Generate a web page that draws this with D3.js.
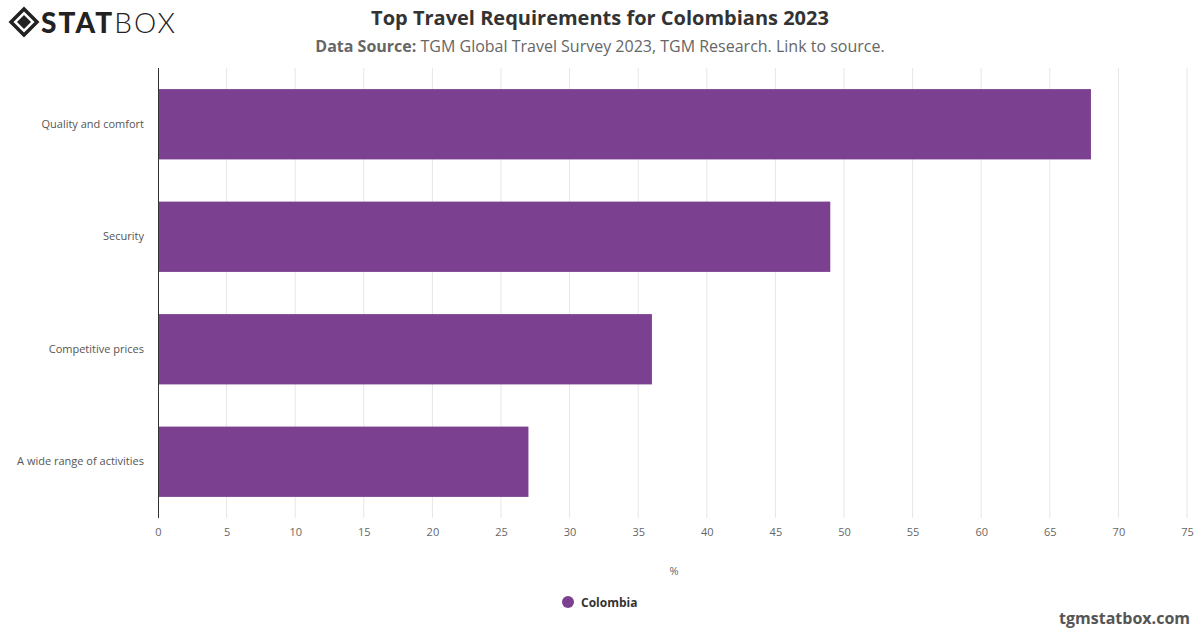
<!DOCTYPE html>
<html><head><meta charset="utf-8">
<script src="https://cdn.jsdelivr.net/npm/d3@7.9.0/dist/d3.min.js"></script>
<style>body{margin:0;background:#fff;font-family:"Open Sans","Noto Sans",sans-serif}</style>
</head><body><svg id="c" width="1200" height="630"></svg>
<script>
const categories = ['Quality and comfort', 'Security', 'Competitive prices', 'A wide range of activities'];
const values = [68, 49, 36, 27];
const ticks = d3.range(0, 76, 5);
const color = '#7b4190';

const svg = d3.select('#c');
const x = d3.scaleLinear().domain([0, 75]).range([158, 1187]);
const y = d3.scaleBand().domain(categories).range([68, 518]).paddingInner(0.375).paddingOuter(0.1875);

// logo
const logo = svg.append('g').attr('transform', 'translate(10,8)');
logo.append('path').attr('d', 'M14,1 L27,14 L14,27 L1,14 Z').attr('fill', 'none').attr('stroke', '#222').attr('stroke-width', 3.5);
logo.append('path').attr('d', 'M14,7 L21,14 L14,21 L7,14 Z').attr('fill', '#222');
logo.append('text').attr('x', 31).attr('y', 25).attr('font-size', 28).attr('font-weight', 900)
  .attr('fill', '#222').attr('font-family', 'Lato, sans-serif').attr('textLength', 134).text('STAT')
  .append('tspan').attr('font-weight', 300).text('BOX');

svg.append('text').attr('x', 600).attr('y', 25).attr('text-anchor', 'middle')
  .attr('font-size', 20).attr('font-weight', 700).attr('fill', '#333').text('Top Travel Requirements for Colombians 2023');
const sub = svg.append('text').attr('x', 600).attr('y', 52).attr('text-anchor', 'middle')
  .attr('font-size', 16).attr('fill', '#666');
sub.append('tspan').attr('font-weight', 700).text('Data Source: ');
sub.append('tspan').text('TGM Global Travel Survey 2023, TGM Research. Link to source.');

// grid
svg.append('g').selectAll('line').data(ticks.slice(1)).join('line')
  .attr('x1', d => x(d)).attr('x2', d => x(d)).attr('y1', 68).attr('y2', 518)
  .attr('stroke', '#e6e6e6');

svg.append('g').selectAll('rect').data(values).join('rect')
  .attr('x', x(0)).attr('y', (d, i) => y(categories[i]))
  .attr('width', d => x(d) - x(0)).attr('height', y.bandwidth()).attr('fill', color);

svg.append('line').attr('x1', 158.5).attr('x2', 158.5).attr('y1', 68).attr('y2', 518).attr('stroke', '#333');

const xa = svg.append('g').attr('transform', 'translate(0,518)')
  .call(d3.axisBottom(x).tickValues(ticks).tickSize(0).tickPadding(10));
xa.select('.domain').remove();
xa.selectAll('text').attr('font-size', 11).attr('fill', '#666').attr('font-family', 'Open Sans, sans-serif');

const ya = svg.append('g').attr('transform', 'translate(158,0)')
  .call(d3.axisLeft(y).tickSize(0).tickPadding(14));
ya.select('.domain').remove();
ya.selectAll('text').attr('font-size', 11).attr('fill', '#555').attr('font-family', 'Open Sans, sans-serif');

svg.append('text').attr('x', 674).attr('y', 575).attr('text-anchor', 'middle')
  .attr('font-size', 11).attr('fill', '#666').text('%');

svg.append('circle').attr('cx', 568).attr('cy', 602).attr('r', 6).attr('fill', color);
svg.append('text').attr('x', 581).attr('y', 607).attr('font-size', 12).attr('font-weight', 700)
  .attr('fill', '#333').text('Colombia');

svg.append('text').attr('x', 1190).attr('y', 624).attr('text-anchor', 'end')
  .attr('font-size', 16).attr('font-weight', 700).attr('fill', '#555').text('tgmstatbox.com');
</script></body></html>
